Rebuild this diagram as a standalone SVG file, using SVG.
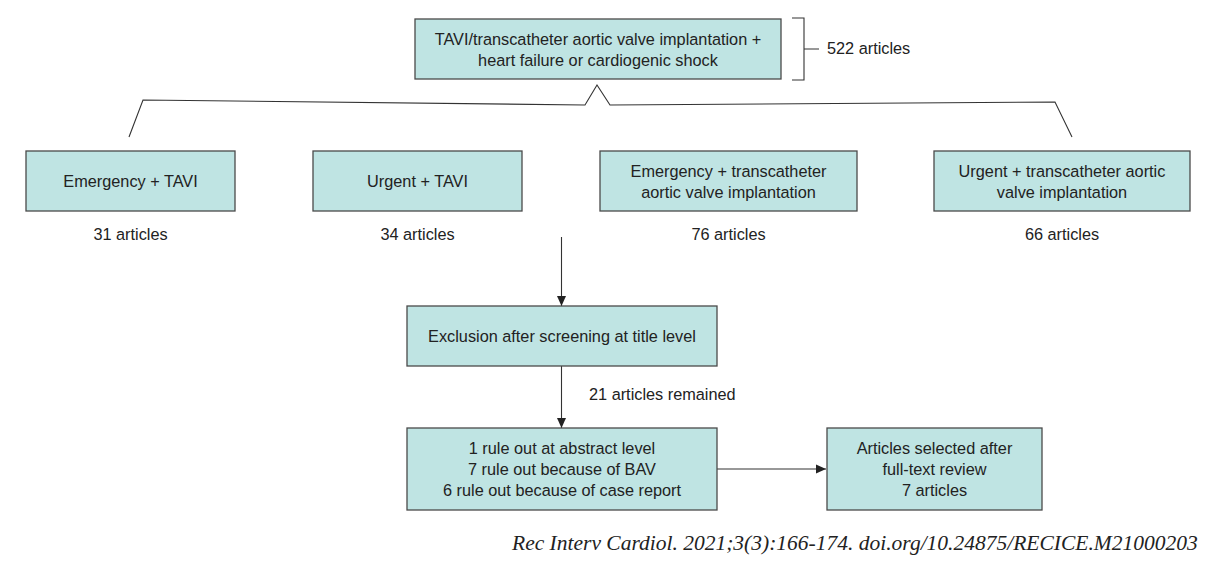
<svg xmlns="http://www.w3.org/2000/svg" width="1217" height="561" viewBox="0 0 1217 561">
<defs>
<style>
.box{fill:#bfe4e3;stroke:#4a4a4a;stroke-width:1.3}
.t{font-family:"Liberation Sans",Arial,sans-serif;font-size:16.3px;fill:#222;text-anchor:middle}
.tl{font-family:"Liberation Sans",Arial,sans-serif;font-size:16.3px;fill:#222}
.ln{fill:none;stroke:#333;stroke-width:1.1}
.cite{font-family:"Liberation Serif","Times New Roman",serif;font-style:italic;font-size:21.5px;fill:#222}
</style>
<marker id="ah" markerUnits="userSpaceOnUse" markerWidth="10" markerHeight="10" refX="10" refY="5" orient="auto">
<path d="M0,0.5 L10,5 L0,9.5 z" fill="#222"/>
</marker>
</defs>
<rect width="1217" height="561" fill="#fff"/>
<g id="connectors">
<path class="ln" d="M129,137 L143,100 L585,105 L597,85 L610,105 L1055,102 L1072,137"/>
<path class="ln" d="M792,18 L804,18 L804,80 L792,80 M804,49 L819,49"/>
<line class="ln" x1="561.5" y1="237" x2="561.5" y2="306" marker-end="url(#ah)"/>
<line class="ln" x1="561.5" y1="366" x2="561.5" y2="428" marker-end="url(#ah)"/>
<line class="ln" x1="717" y1="469" x2="826" y2="469" marker-end="url(#ah)"/>
</g>
<g id="n-top">
<rect class="box" x="415" y="19" width="366" height="60"/>
<text class="t" x="598" y="44.5">TAVI/transcatheter aortic valve implantation +</text>
<text class="t" x="598" y="65.5">heart failure or cardiogenic shock</text>
</g>
<g id="n-total"><text class="tl" x="827" y="54">522 articles</text></g>
<g id="n-emtavi">
<rect class="box" x="26" y="151" width="209" height="60"/>
<text class="t" x="130.5" y="187">Emergency + TAVI</text>
<text class="t" x="130.5" y="240">31 articles</text>
</g>
<g id="n-urtavi">
<rect class="box" x="313" y="151" width="209" height="60"/>
<text class="t" x="417.5" y="187">Urgent + TAVI</text>
<text class="t" x="417.5" y="240">34 articles</text>
</g>
<g id="n-emtrans">
<rect class="box" x="600" y="151" width="257" height="60"/>
<text class="t" x="728.5" y="176.5">Emergency + transcatheter</text>
<text class="t" x="728.5" y="197.5">aortic valve implantation</text>
<text class="t" x="728.5" y="240">76 articles</text>
</g>
<g id="n-urtrans">
<rect class="box" x="934" y="151" width="256" height="60"/>
<text class="t" x="1062" y="176.5">Urgent + transcatheter aortic</text>
<text class="t" x="1062" y="197.5">valve implantation</text>
<text class="t" x="1062" y="240">66 articles</text>
</g>
<g id="n-exclusion">
<rect class="box" x="407" y="306" width="310" height="60"/>
<text class="t" x="562" y="342">Exclusion after screening at title level</text>
</g>
<g id="n-remained"><text class="tl" x="589" y="400">21 articles remained</text></g>
<g id="n-ruleout">
<rect class="box" x="407" y="428" width="310" height="82"/>
<text class="t" x="562" y="454">1 rule out at abstract level</text>
<text class="t" x="562" y="475">7 rule out because of BAV</text>
<text class="t" x="562" y="496">6 rule out because of case report</text>
</g>
<g id="n-selected">
<rect class="box" x="827" y="428" width="215" height="82"/>
<text class="t" x="934.5" y="454">Articles selected after</text>
<text class="t" x="934.5" y="475">full-text review</text>
<text class="t" x="934.5" y="496">7 articles</text>
</g>
<text class="cite" x="512" y="550">Rec Interv Cardiol. 2021;3(3):166-174. doi.org/10.24875/RECICE.M21000203</text>
</svg>
